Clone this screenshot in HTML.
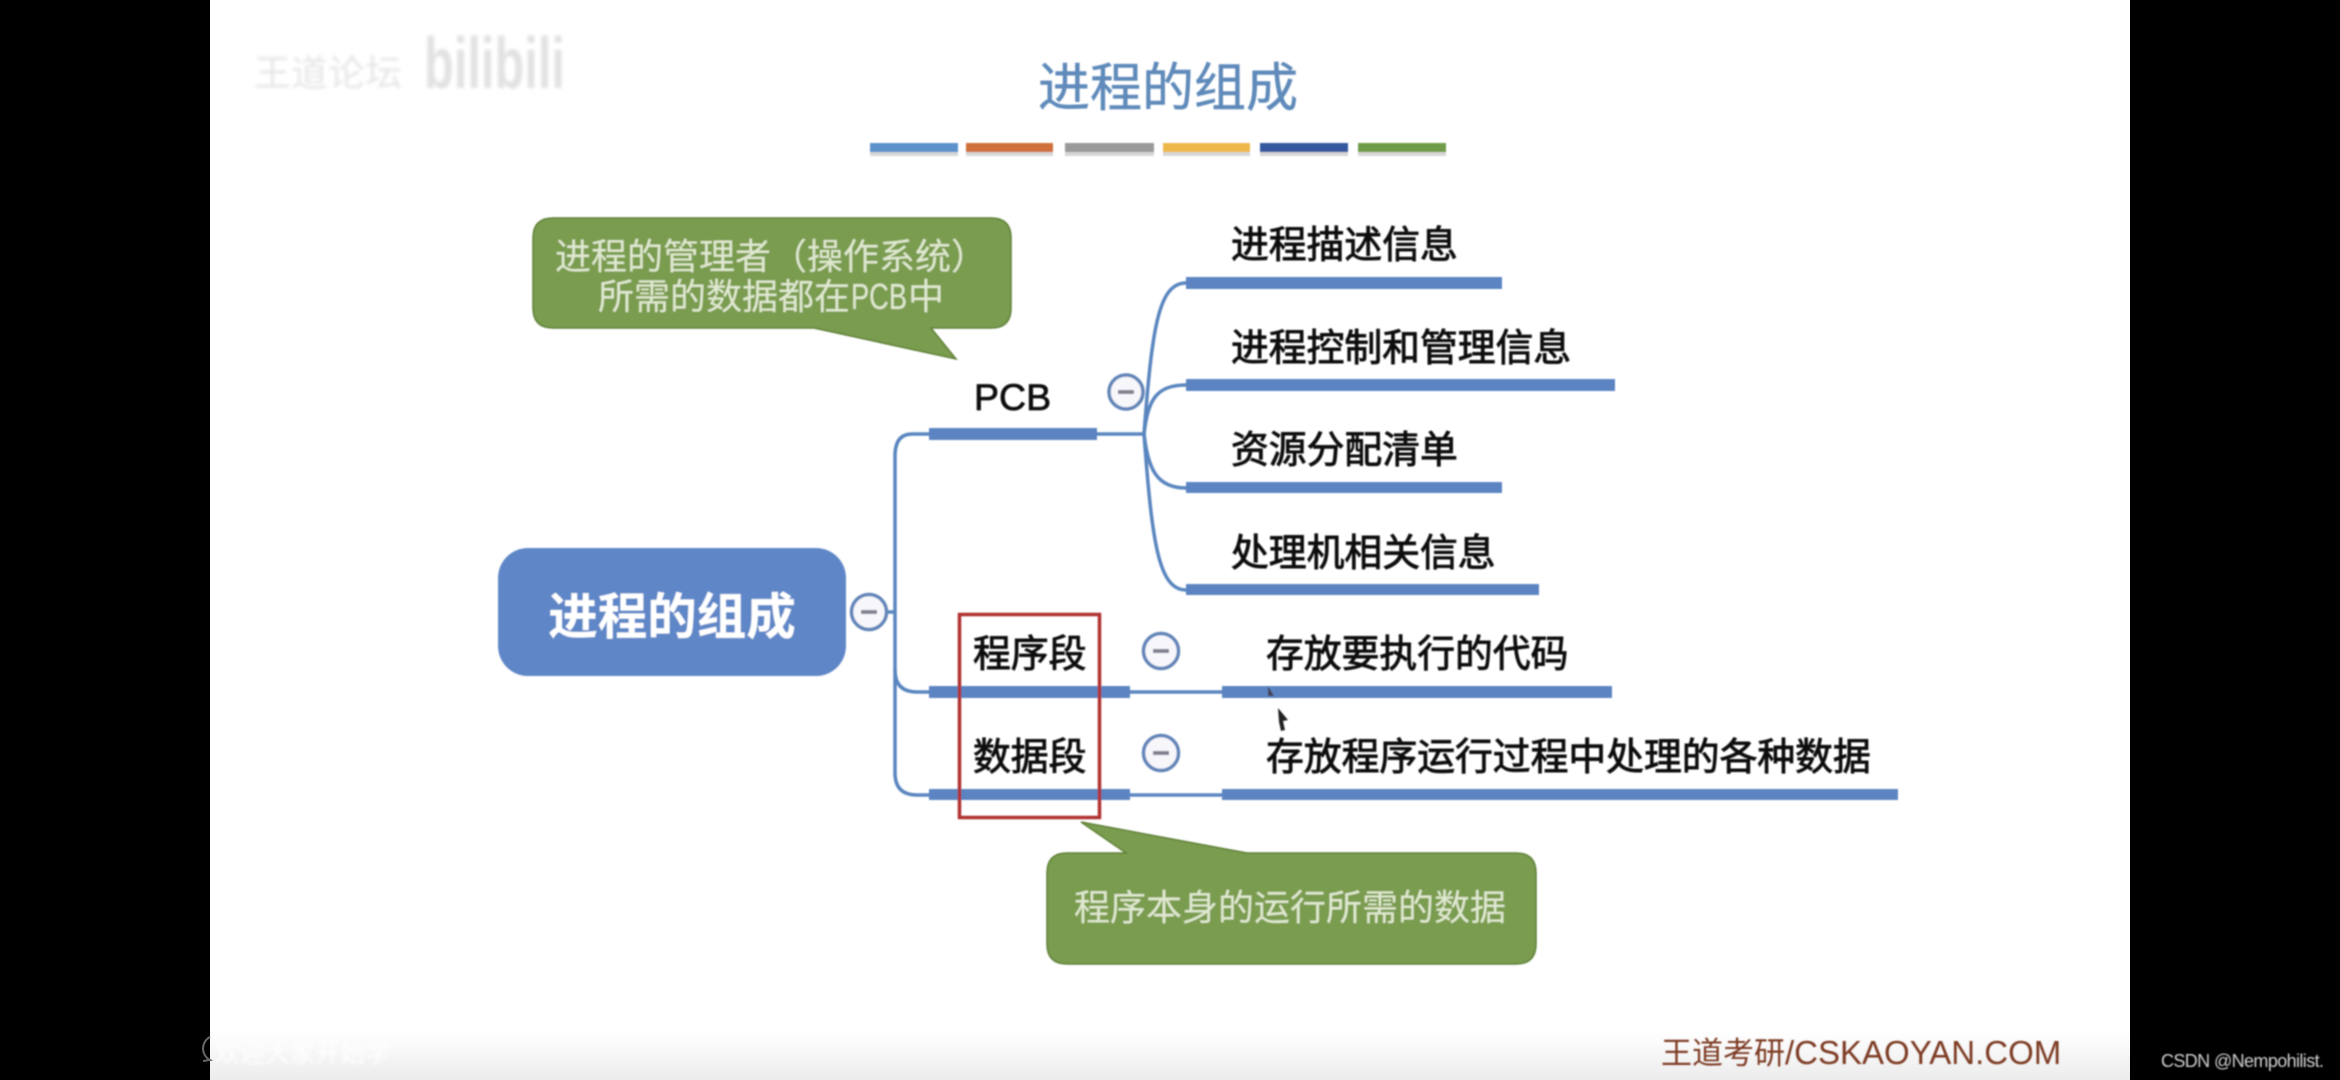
<!DOCTYPE html>
<html lang="zh">
<head>
<meta charset="utf-8">
<title>进程的组成</title>
<style>
html,body{margin:0;padding:0;background:#000;width:2340px;height:1080px;overflow:hidden}
svg{display:block;position:absolute;left:0;top:0}
text{font-family:"Liberation Sans","Noto Sans CJK SC",sans-serif}
.t{font-size:37.8px;fill:#0c0c0c;stroke:#0c0c0c;stroke-width:.9px}
.c{font-size:36px;fill:#dfe8cf}
.bar{fill:#5b84c2}
.ln{fill:none;stroke:#5a86bf;stroke-width:3.5px}
.mc{fill:#f6f6fb;stroke:#6285b8;stroke-width:3.5px}
.mm{fill:#808090}
</style>
</head>
<body>
<svg width="2340" height="1080" viewBox="0 0 2340 1080" xmlns="http://www.w3.org/2000/svg">
<defs>
<linearGradient id="fade" x1="0" y1="0" x2="0" y2="1">
<stop offset="0" stop-color="#fff"/><stop offset="1" stop-color="#ececec"/>
</linearGradient>
<filter id="soft"><feGaussianBlur stdDeviation="0.8"/></filter>
<filter id="wm"><feGaussianBlur stdDeviation="1.6"/></filter>
</defs>
<rect width="2340" height="1080" fill="#000"/>
<rect x="210" y="0" width="1920" height="1080" fill="#fff"/>
<rect x="210" y="1032" width="1920" height="48" fill="url(#fade)"/>

<g filter="url(#wm)">
<text x="254" y="86" font-size="37" fill="#e6e6e6">王道论坛</text>
<text transform="translate(424 88) scale(1 1.25)" font-size="58" font-weight="bold" fill="#e2e2e2" textLength="141" lengthAdjust="spacingAndGlyphs">bilibili</text>
<text x="215" y="1062" font-size="25" fill="#ffffff">欢迎大家开始学</text>
</g>
<path d="M210 1037 A13 13 0 0 0 210 1060 L203 1061" fill="none" stroke="#666" stroke-width="2"/>

<g filter="url(#soft)">
<text x="1168" y="106" font-size="52" text-anchor="middle" fill="#5f8aba" stroke="#5f8aba" stroke-width=".5">进程的组成</text>
<g fill="#bbb" opacity=".6">
<rect x="870" y="152" width="88" height="4"/><rect x="966" y="152" width="87" height="4"/><rect x="1065" y="152" width="89" height="4"/><rect x="1163" y="152" width="87" height="4"/><rect x="1260" y="152" width="88" height="4"/><rect x="1358" y="152" width="88" height="4"/>
</g>
<rect x="870" y="143" width="88" height="9" fill="#5b92cc"/>
<rect x="966" y="143" width="87" height="9" fill="#d0703a"/>
<rect x="1065" y="143" width="89" height="9" fill="#9a9a9a"/>
<rect x="1163" y="143" width="87" height="9" fill="#edb748"/>
<rect x="1260" y="143" width="88" height="9" fill="#35599f"/>
<rect x="1358" y="143" width="88" height="9" fill="#6f9b48"/>

<!-- connectors -->
<path class="ln" d="M929 434 H912 Q895 434 895 456 V773 Q895 795 917 795 H929"/>
<path class="ln" d="M895 670 Q895 692 917 692 H929"/>
<path class="ln" d="M850 612 H895"/>
<path class="ln" d="M1097 434 H1144"/>
<path class="ln" d="M1144 434 C1152 330 1158 283 1186 283"/>
<path class="ln" d="M1144 434 C1148 400 1156 385 1186 385"/>
<path class="ln" d="M1144 434 C1148 468 1156 488 1186 488"/>
<path class="ln" d="M1144 434 C1152 540 1158 590 1186 590"/>
<path class="ln" d="M1130 692 H1222"/>
<path class="ln" d="M1130 795 H1222"/>

<!-- bars -->
<rect class="bar" x="1186" y="277" width="316" height="12"/>
<rect class="bar" x="1186" y="379" width="429" height="12"/>
<rect class="bar" x="1186" y="482" width="316" height="11"/>
<rect class="bar" x="1186" y="584" width="353" height="11"/>
<rect class="bar" x="929" y="428" width="168" height="12"/>
<rect class="bar" x="929" y="686" width="201" height="12"/>
<rect class="bar" x="1222" y="686" width="390" height="12"/>
<rect class="bar" x="929" y="789" width="201" height="11"/>
<rect class="bar" x="1222" y="789" width="676" height="11"/>

<!-- central node -->
<rect x="498" y="548" width="348" height="128" rx="30" fill="#5f87c7"/>
<text x="672" y="634" font-size="49.5" font-weight="bold" text-anchor="middle" fill="#fff">进程的组成</text>

<!-- collapse buttons -->
<circle class="mc" cx="869" cy="612" r="17.5"/><rect class="mm" x="861" y="610" width="16" height="4"/>
<circle class="mc" cx="1126" cy="392" r="17"/><rect class="mm" x="1118" y="390" width="16" height="4"/>
<circle class="mc" cx="1161" cy="651" r="17.5"/><rect class="mm" x="1153" y="649" width="16" height="4"/>
<circle class="mc" cx="1161" cy="753" r="17.5"/><rect class="mm" x="1153" y="751" width="16" height="4"/>

<!-- labels -->
<text class="t" x="1231" y="258">进程描述信息</text>
<text class="t" x="1231" y="361">进程控制和管理信息</text>
<text class="t" x="1231" y="463">资源分配清单</text>
<text class="t" x="1231" y="566">处理机相关信息</text>
<text x="974" y="410" font-size="37.5" fill="#0c0c0c" stroke="#0c0c0c" stroke-width=".7">PCB</text>
<text class="t" x="973" y="667">程序段</text>
<text class="t" x="973" y="770">数据段</text>
<text class="t" x="1266" y="667">存放要执行的代码</text>
<text class="t" x="1266" y="770">存放程序运行过程中处理的各种数据</text>

<!-- red box -->
<rect x="959.5" y="614.5" width="140" height="203" fill="none" stroke="#b03232" stroke-width="3.5"/>

<!-- callouts -->
<path d="M553 218 H991 Q1011 218 1011 238 V308 Q1011 328 991 328 H931 L956 359 L814 328 H553 Q533 328 533 308 V238 Q533 218 553 218 Z" fill="#7a9c50" stroke="#5f8038" stroke-width="1.5"/>
<text class="c" x="555" y="269">进程的管理者（操作系统）</text>
<text class="c" x="598" y="309">所需的数据都在</text>
<text class="c" x="851" y="309" textLength="56" lengthAdjust="spacingAndGlyphs">PCB</text>
<text class="c" x="908" y="309">中</text>

<path d="M1067 853 H1126 L1081 822 L1247 853 H1516 Q1536 853 1536 873 V944 Q1536 964 1516 964 H1067 Q1047 964 1047 944 V873 Q1047 853 1067 853 Z" fill="#7a9c50" stroke="#5f8038" stroke-width="1.5"/>
<text class="c" x="1074" y="920">程序本身的运行所需的数据</text>

<!-- cursor -->
<path d="M1268 686 L1274 696 H1268 Z" fill="#445"/>
<path d="M1278 708 L1288 720 L1283 721 L1285 730 L1281 731 L1279 722 Z" fill="#222"/>

<!-- footer -->
<text x="1661" y="1064" fill="#7d3b24" font-size="33"><tspan font-size="31">王道考研</tspan><tspan>/CSKAOYAN.COM</tspan></text>
<text x="2161" y="1067" font-size="18" fill="#cfcfcf" textLength="163">CSDN @Nempohilist.</text>
</g>
</svg>
</body>
</html>
